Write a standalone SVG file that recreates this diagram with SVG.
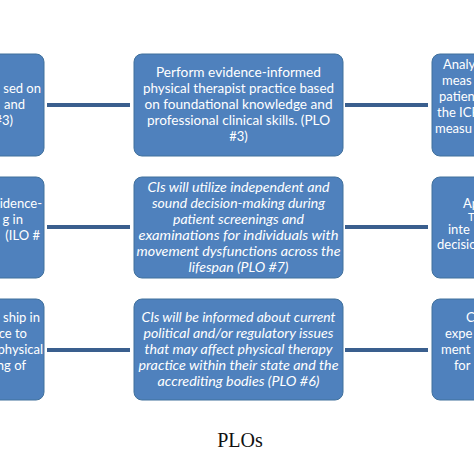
<svg xmlns="http://www.w3.org/2000/svg" width="474" height="474" viewBox="0 0 474 474">
<style>
.box{fill:#4f81bd;stroke:#41719c;stroke-width:1}
.t{font-family:Lato,"Liberation Sans",sans-serif;font-size:13px;fill:#ffffff}
.c{text-anchor:middle}
.e{text-anchor:end}
.i{font-style:italic}
.conn{stroke:#3a5f8e;stroke-width:4;fill:none}
.cap{font-family:"Liberation Serif","Times New Roman",serif;font-size:20px;fill:#111111;text-anchor:middle}
</style>
<rect x="0" y="0" width="474" height="474" fill="#ffffff"/>
<g id="connectors">
<line class="conn" x1="47" y1="105" x2="130" y2="105"/>
<line class="conn" x1="345" y1="105" x2="428" y2="105"/>
<line class="conn" x1="47" y1="227" x2="130" y2="227"/>
<line class="conn" x1="345" y1="227" x2="428" y2="227"/>
<line class="conn" x1="47" y1="350" x2="130" y2="350"/>
<line class="conn" x1="345" y1="350" x2="428" y2="350"/>
</g>
<g id="ilo1">
<rect class="box" x="-200" y="54" width="244" height="102" rx="8"/>
<text class="t e" x="41" y="93">sed on</text>
<text class="t e" x="25" y="109">and</text>
<text class="t e" x="13" y="125">#3)</text>
</g>
<g id="plo3">
<rect class="box" x="134" y="54" width="209" height="102" rx="8"/>
<text class="t c" x="238.5" y="77" textLength="165" lengthAdjust="spacingAndGlyphs">Perform evidence-informed</text>
<text class="t c" x="238.5" y="93" textLength="191" lengthAdjust="spacingAndGlyphs">physical therapist practice based</text>
<text class="t c" x="238.5" y="109" textLength="188" lengthAdjust="spacingAndGlyphs">on foundational knowledge and</text>
<text class="t c" x="238.5" y="125" textLength="183" lengthAdjust="spacingAndGlyphs">professional clinical skills. (PLO</text>
<text class="t c" x="238.5" y="141">#3)</text>
</g>
<g id="out1">
<rect class="box" x="432" y="54" width="250" height="102" rx="8"/>
<text class="t" x="443" y="69">Analy</text>
<text class="t" x="442" y="85">meas</text>
<text class="t" x="439" y="101">patien</text>
<text class="t" x="437" y="117">the ICF</text>
<text class="t" x="435" y="133">measu</text>
</g>
<g id="ilo2">
<rect class="box" x="-200" y="177" width="244" height="101" rx="8"/>
<text class="t e" x="42" y="208">idence-</text>
<text class="t e" x="23" y="224">g in</text>
<text class="t e" x="40" y="240">(ILO #</text>
</g>
<g id="plo7">
<rect class="box" x="134" y="177" width="209" height="101" rx="8"/>
<text class="t c i" x="238.5" y="192" textLength="182" lengthAdjust="spacingAndGlyphs">CIs will utilize independent and</text>
<text class="t c i" x="238.5" y="208" textLength="173" lengthAdjust="spacingAndGlyphs">sound decision-making during</text>
<text class="t c i" x="238.5" y="224" textLength="131" lengthAdjust="spacingAndGlyphs">patient screenings and</text>
<text class="t c i" x="238.5" y="240" textLength="200" lengthAdjust="spacingAndGlyphs">examinations for individuals with</text>
<text class="t c i" x="238.5" y="256" textLength="204" lengthAdjust="spacingAndGlyphs">movement dysfunctions across the</text>
<text class="t c i" x="238.5" y="272" textLength="100" lengthAdjust="spacingAndGlyphs">lifespan (PLO #7)</text>
</g>
<g id="out2">
<rect class="box" x="432" y="177" width="250" height="101" rx="8"/>
<text class="t" x="463" y="208">Ap</text>
<text class="t" x="468" y="221" style="font-size:11px">T</text>
<text class="t" x="448" y="234">inte</text>
<text class="t" x="437" y="249">decisio</text>
</g>
<g id="ilo3">
<rect class="box" x="-200" y="299" width="244" height="101" rx="8"/>
<text class="t e" x="40" y="322">ship in</text>
<text class="t e" x="27" y="338">ce to</text>
<text class="t e" x="43" y="354">physical</text>
<text class="t e" x="26" y="370">ng of</text>
</g>
<g id="plo6">
<rect class="box" x="134" y="299" width="209" height="101" rx="8"/>
<text class="t c i" x="238.5" y="322" textLength="194" lengthAdjust="spacingAndGlyphs">CIs will be informed about current</text>
<text class="t c i" x="238.5" y="338" textLength="190" lengthAdjust="spacingAndGlyphs">political and/or regulatory issues</text>
<text class="t c i" x="238.5" y="354" textLength="188" lengthAdjust="spacingAndGlyphs">that may affect physical therapy</text>
<text class="t c i" x="238.5" y="370" textLength="200" lengthAdjust="spacingAndGlyphs">practice within their state and the</text>
<text class="t c i" x="238.5" y="386" textLength="162" lengthAdjust="spacingAndGlyphs">accrediting bodies (PLO #6)</text>
</g>
<g id="out3">
<rect class="box" x="432" y="299" width="250" height="101" rx="8"/>
<text class="t" x="466" y="322">C</text>
<text class="t" x="445" y="338">expe</text>
<text class="t" x="441" y="354">ment</text>
<text class="t" x="454" y="370">for</text>
</g>
<g id="caption">
<text class="cap" x="240" y="447">PLOs</text>
</g>
</svg>
